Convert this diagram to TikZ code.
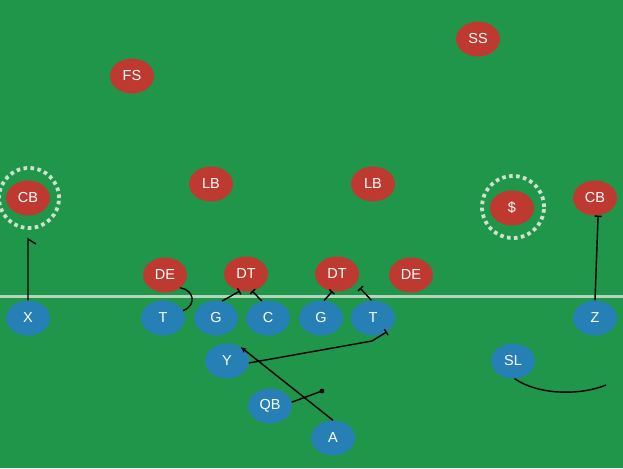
\documentclass[tikz,border=0pt]{standalone}
\usepackage{fontspec}
\setmainfont{Liberation Sans}
\usetikzlibrary{shapes.geometric,arrows.meta}
\definecolor{field}{RGB}{32,150,74}
\definecolor{defred}{RGB}{190,58,48}
\definecolor{offblue}{RGB}{38,128,182}
\definecolor{chalk}{RGB}{205,225,205}
\tikzset{
  player/.style={ellipse, minimum width=44pt, minimum height=35pt, inner sep=0pt,
    text=white, font=\fontsize{14.5}{14.5}\selectfont},
  def/.style={player, fill=defred},
  off/.style={player, fill=offblue},
  route/.style={line width=1.4pt, black},
  block/.style={route, -{Bar[width=7pt,line width=1.4pt]}},
  zone/.style={chalk, line width=3.8pt, dash pattern=on 3.6pt off 3.4pt},
}
\begin{document}
\begin{tikzpicture}[x=1pt,y=-1pt]
\fill[field] (0,0) rectangle (623,468);
\useasboundingbox (0,0) rectangle (623,468);
% line of scrimmage
\draw[chalk, line width=3pt, opacity=0.85] (0,296) -- (623,296);
% zones
\node[circle, minimum size=60pt, draw=chalk, zone] (zoneL) at (29,198) {};
\node[circle, minimum size=62pt, draw=chalk, zone] (zoneR) at (513,207) {};
% defense
\node[def] (FS) at (132,76) {FS};
\node[def] (SS) at (478,39) {SS};
\node[def] (LB1) at (211,184) {LB};
\node[def] (LB2) at (373,184) {LB};
\node[def] (CBL) at (28,198) {CB};
\node[def] (S) at (512,208) {\$};
\node[def] (CBR) at (595,198) {CB};
\node[def] (DE1) at (165,275) {DE};
\node[def] (DT1) at (246,274) {DT};
\node[def] (DT2) at (337,274) {DT};
\node[def] (DE2) at (411,275) {DE};
% offense
\node[off] (X) at (28,318) {X};
\node[off] (T1) at (163,318) {T};
\node[off] (G1) at (216,318) {G};
\node[off] (C) at (268,318) {C};
\node[off] (G2) at (321,318) {G};
\node[off] (T2) at (373,318) {T};
\node[off] (Z) at (595,318) {Z};
\node[off] (Y) at (227,361) {Y};
\node[off] (SL) at (513,361) {SL};
\node[off] (QB) at (270,406) {QB};
\node[off] (A) at (333,438) {A};
% routes and blocks
\coordinate (xs) at (28,239);
\coordinate (xf) at (36,244);
\draw[route] (X.north) -- (xs) -- (xf);
\draw[route] (T1.20) .. controls (197,305) and (194,290) .. (DE1.-40);
\draw[block] (G1.70) -- (DT1.-110);
\draw[block] (C.110) -- (DT1.-70);
\draw[block] (G2.80) -- (DT2.-105);
\coordinate (t2b) at (360,288);
\draw[block] (T2.95) -- (t2b);
\coordinate (yb) at (372,341);
\draw[block] (Y.-5) -- (yb) -- (T2.-45);
\draw[route, -{Stealth[length=6pt,width=5pt]}] (A.north) -- (Y.45);
\coordinate (qd) at (322,391);
\draw[route] (QB.10) -- (qd);
\fill (qd) circle (2.4pt);
\draw[block] (Z.north) -- (CBR.-80);
\coordinate (slend) at (606,385);
\draw[route] (SL.-85) .. controls (540,396) and (582,395) .. (slend);
\end{tikzpicture}
\end{document}
